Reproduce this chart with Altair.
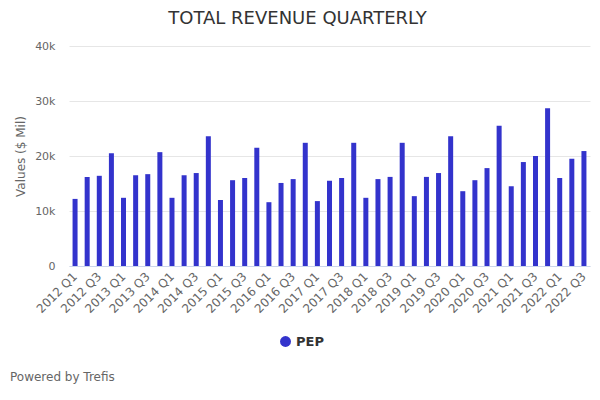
import altair as alt
import pandas as pd

quarters = [f"{y} Q{q}" for y in range(2012, 2023) for q in range(1, 5)][:43]
revenue = [12.2, 16.2, 16.4, 20.5, 12.4, 16.5, 16.7, 20.7,
           12.4, 16.5, 16.9, 23.6, 12.0, 15.6, 16.0, 21.5,
           11.6, 15.1, 15.8, 22.4, 11.8, 15.5, 16.0, 22.4,
           12.4, 15.8, 16.2, 22.4, 12.7, 16.2, 16.9, 23.6,
           13.6, 15.6, 17.8, 25.5, 14.5, 18.9, 20.0, 28.7,
           16.0, 19.5, 20.9]
revenue = [v * 1000 for v in revenue]
series = ["PEP"] * len(quarters)
shown_labels = quarters[::2]

df = pd.DataFrame({"quarter": quarters, "value": revenue, "series": series})
font = "DejaVu Sans"

bars = alt.Chart(df).mark_bar(width=5).encode(
    x=alt.X("quarter:N", sort=quarters,
            scale=alt.Scale(paddingInner=0.58, paddingOuter=0.29),
            axis=alt.Axis(title=None, values=shown_labels, labelAngle=-45,
                          labelAlign="right", labelBaseline="middle",
                          labelFontSize=12, labelColor="#666666", labelFont=font,
                          ticks=False, labelPadding=8, domainColor="#ccd6eb",
                          grid=False)),
    y=alt.Y("value:Q", scale=alt.Scale(domain=[0, 40000]),
            axis=alt.Axis(title="Values ($ Mil)", values=[0, 10000, 20000, 30000, 40000],
                          labelExpr="datum.value == 0 ? '0' : (datum.value / 1000) + 'k'",
                          labelFontSize=11, labelColor="#666666",
                          labelFont=font, ticks=False, domain=False, labelPadding=14,
                          titleFont=font, titleFontSize=12, titleColor="#666666",
                          titleFontWeight="normal", titlePadding=7,
                          gridColor="#e6e6e6")),
    color=alt.Color("series:N", scale=alt.Scale(range=["#3333cc"]),
                    legend=alt.Legend(title=None, orient="none", legendX=210, legendY=289,
                                      symbolType="circle", symbolSize=120,
                                      symbolStrokeWidth=0, labelFontSize=13,
                                      labelFontWeight="bold", labelColor="#333333",
                                      labelFont=font, padding=0)),
)

footer = alt.Chart(pd.DataFrame({"t": ["Powered by Trefis"]})).mark_text(
    align="left", baseline="middle", fontSize=12, color="#666666", font=font
).encode(x=alt.value(-59), y=alt.value(331), text="t:N")

chart = alt.layer(bars, footer).properties(
    width=521, height=220,
    title=alt.Title("TOTAL REVENUE QUARTERLY", fontSize=18, color="#333333",
                    fontWeight="normal", font=font, dx=-32, offset=12),
    padding={"left": 61, "top": 38, "right": 2, "bottom": 126},
    autosize=alt.AutoSizeParams(type="none"),
).configure_view(stroke=None)

chart.save("out.html", embed_options={"renderer": "svg", "actions": False})
